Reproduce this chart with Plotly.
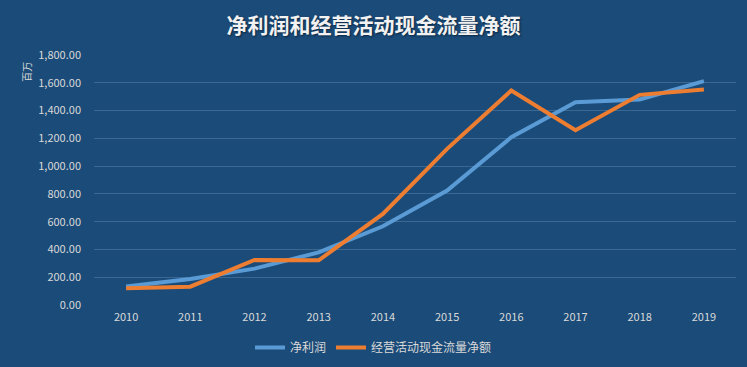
import plotly.graph_objects as go

years = ["2010", "2011", "2012", "2013", "2014", "2015", "2016", "2017", "2018", "2019"]
net_profit = [134, 187, 262, 379, 567, 824, 1208, 1460, 1480, 1612]
op_cash_flow = [120, 132, 324, 322, 656, 1124, 1544, 1258, 1513, 1552]
series_names = ["净利润", "经营活动现金流量净额"]

BG = "#1B4B78"
GRID = "#3A6893"
TXT = "#D9D9D9"
FONT = "Noto Sans CJK SC"

fig = go.Figure()
fig.add_trace(go.Scatter(x=years, y=net_profit, name=series_names[0], mode="lines",
                         line=dict(color="#5B9BD5", width=4)))
fig.add_trace(go.Scatter(x=years, y=op_cash_flow, name=series_names[1], mode="lines",
                         line=dict(color="#ED7D31", width=4)))

fig.update_layout(
    width=747, height=367,
    paper_bgcolor=BG, plot_bgcolor=BG,
    margin=dict(l=94, r=11, t=55, b=62, autoexpand=False),
    font=dict(family=FONT, color=TXT, size=11),
    title=dict(text="<b>净利润和经营活动现金流量净额</b>", x=0.5, xanchor="center",
               y=0.93, yanchor="middle",
               font=dict(family=FONT, size=21, color="#F2F2F2", shadow="1px 1px 2px #0a2540")),
    showlegend=True,
    legend=dict(orientation="h", xref="container", x=0.5, xanchor="center",
                y=-0.17, yanchor="middle",
                font=dict(size=12, color=TXT), bgcolor="rgba(0,0,0,0)",
                itemwidth=30, tracegroupgap=0),
    xaxis=dict(type="category", showgrid=False, zeroline=False, showline=False,
               ticks="", tickfont=dict(size=11, color=TXT), range=[-0.5, 9.5],
               automargin=False, ticklabelstandoff=4),
    yaxis=dict(range=[0, 1800], dtick=200, tickformat=",.2f", showgrid=True,
               gridcolor=GRID, gridwidth=1, zeroline=False, showline=False,
               ticks="", tickfont=dict(size=11, color=TXT), ticklabelstandoff=12,
               automargin=False),
)

fig.add_annotation(text="百万", xref="paper", yref="paper",
                   x=(27 - 94) / 642, y=(305.3 - 72) / 250, textangle=-90,
                   showarrow=False, font=dict(size=10, color=TXT, family=FONT),
                   xanchor="center", yanchor="middle")

fig.write_html("out.html", config={"displayModeBar": False},
               post_script="document.body.style.margin='0';document.body.style.background='" + BG + "';")
